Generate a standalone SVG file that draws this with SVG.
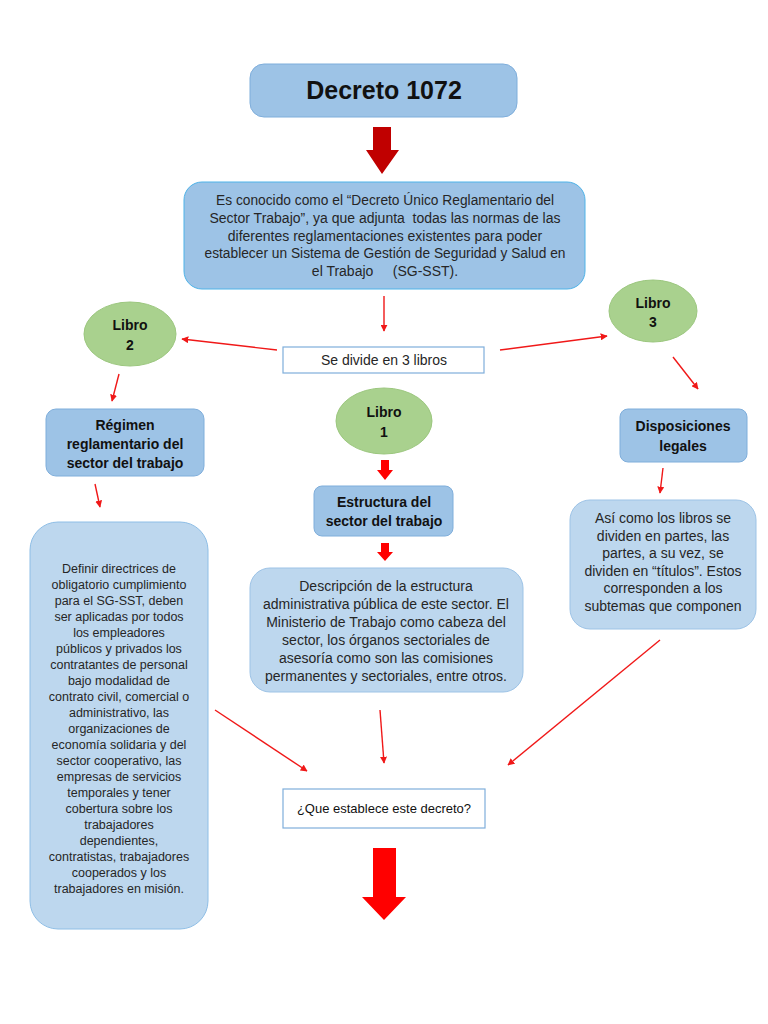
<svg xmlns="http://www.w3.org/2000/svg" width="768" height="1024" viewBox="0 0 768 1024">
<defs>
<style>
.box{fill:#9DC3E6;stroke:#7FAEDB;stroke-width:1}
.lbox{fill:#BDD7EE;stroke:#9DC3E6;stroke-width:1}
.wbox{fill:#FFFFFF;stroke:#7FAEDB;stroke-width:1.2}
.ell{fill:#A9D18E;stroke:#9CC77F;stroke-width:1}
.t{font-family:"Liberation Sans",Arial,sans-serif;font-size:14px;fill:#262626;text-anchor:middle}
.b{font-family:"Liberation Sans",Arial,sans-serif;font-size:14px;font-weight:bold;fill:#111;text-anchor:middle}
.s{font-family:"Liberation Sans",Arial,sans-serif;font-size:12.5px;fill:#262626;text-anchor:middle}
.ln{stroke:#F01818;stroke-width:1.4;fill:none;marker-end:url(#ah)}
</style>
<marker id="ah" viewBox="0 0 10 10" refX="9" refY="5" markerWidth="7" markerHeight="7" markerUnits="userSpaceOnUse" orient="auto">
<path d="M0,0 L10,5 L0,10 z" fill="#F01818"/>
</marker>
</defs>
<rect width="768" height="1024" fill="#FFFFFF"/>

<g id="connectors">
<polygon points="373,127 391,127 391,150 399,150 382,174 366,150 373,150" fill="#C00000"/>
<line class="ln" x1="384" y1="296" x2="384" y2="331"/>
<line class="ln" x1="277" y1="350" x2="182" y2="339"/>
<line class="ln" x1="500" y1="350" x2="607" y2="336"/>
<line class="ln" x1="119" y1="374" x2="112" y2="401"/>
<line class="ln" x1="673" y1="357" x2="698" y2="389"/>
<polygon points="381,460 389,460 389,470 393,470 385,480 377,470 381,470" fill="#FF0000"/>
<polygon points="381,543 389,543 389,552 393,552 385,561 377,552 381,552" fill="#FF0000"/>
<line class="ln" x1="95" y1="484" x2="100" y2="507"/>
<line class="ln" x1="663" y1="468" x2="660" y2="493"/>
<line class="ln" x1="215" y1="710" x2="307" y2="771"/>
<line class="ln" x1="380" y1="710" x2="384" y2="763"/>
<line class="ln" x1="660" y1="640" x2="508" y2="765"/>
<polygon points="373,848 396,848 396,897 406,897 384,920 362,897 373,897" fill="#FF0000"/>
</g>

<g id="decreto">
<rect class="box" x="250" y="64" width="267" height="53" rx="14"/>
<text x="384" y="99" font-family="Liberation Sans,Arial,sans-serif" font-size="25" font-weight="bold" fill="#111" text-anchor="middle">Decreto 1072</text>
</g>

<g id="conocido">
<rect class="box" x="184" y="182" width="401" height="107" rx="18" style="stroke:#4FB3E8"/>
<text class="t" x="385" y="205" textLength="338" lengthAdjust="spacingAndGlyphs">Es conocido como el “Decreto Único Reglamentario del</text>
<text class="t" x="385" y="223" xml:space="preserve">Sector Trabajo”, ya que adjunta  todas las normas de las</text>
<text class="t" x="385" y="241">diferentes reglamentaciones existentes para poder</text>
<text class="t" x="385" y="258" textLength="361" lengthAdjust="spacingAndGlyphs">establecer un Sistema de Gestión de Seguridad y Salud en</text>
<text class="t" x="385" y="276" xml:space="preserve">el Trabajo     (SG-SST).</text>
</g>

<g id="divide">
<rect class="wbox" x="283" y="347" width="201" height="26"/>
<text class="t" x="384" y="365">Se divide en 3 libros</text>
</g>

<g id="libro2">
<ellipse class="ell" cx="130" cy="334" rx="46" ry="32"/>
<text class="b" x="130" y="330">Libro</text>
<text class="b" x="130" y="350">2</text>
</g>

<g id="libro3">
<ellipse class="ell" cx="653" cy="311" rx="44" ry="31"/>
<text class="b" x="653" y="308">Libro</text>
<text class="b" x="653" y="327">3</text>
</g>

<g id="libro1">
<ellipse class="ell" cx="384" cy="421" rx="48" ry="33"/>
<text class="b" x="384" y="417">Libro</text>
<text class="b" x="384" y="437">1</text>
</g>

<g id="regimen">
<rect class="box" x="46" y="409" width="158" height="67" rx="10"/>
<text class="b" x="125" y="430">Régimen</text>
<text class="b" x="125" y="449">reglamentario del</text>
<text class="b" x="125" y="468">sector del trabajo</text>
</g>

<g id="disposiciones">
<rect class="box" x="620" y="409" width="127" height="53" rx="8"/>
<text class="b" x="683" y="431">Disposiciones</text>
<text class="b" x="683" y="451">legales</text>
</g>

<g id="estructura">
<rect class="box" x="314" y="486" width="139" height="50" rx="8"/>
<text class="b" x="384" y="507">Estructura del</text>
<text class="b" x="384" y="526">sector del trabajo</text>
</g>

<g id="descripcion">
<rect class="lbox" x="250" y="568" width="273" height="124" rx="20"/>
<text class="t" x="386" y="591">Descripción de la estructura</text>
<text class="t" x="386" y="609">administrativa pública de este sector. El</text>
<text class="t" x="386" y="627">Ministerio de Trabajo como cabeza del</text>
<text class="t" x="386" y="645">sector, los órganos sectoriales de</text>
<text class="t" x="386" y="663">asesoría como son las comisiones</text>
<text class="t" x="386" y="681">permanentes y sectoriales, entre otros.</text>
</g>

<g id="asi">
<rect class="lbox" x="570" y="500" width="186" height="129" rx="20"/>
<text class="t" x="663" y="523">Así como los libros se</text>
<text class="t" x="663" y="541">dividen en partes, las</text>
<text class="t" x="663" y="558">partes, a su vez, se</text>
<text class="t" x="663" y="576">dividen en “títulos”. Estos</text>
<text class="t" x="663" y="593">corresponden a los</text>
<text class="t" x="663" y="611">subtemas que componen</text>
</g>

<g id="definir">
<rect class="lbox" x="30" y="522" width="178" height="407" rx="28" style="stroke:#8EBEE6"/>
<text class="s" x="119" y="573">Definir directrices de</text>
<text class="s" x="119" y="589">obligatorio cumplimiento</text>
<text class="s" x="119" y="605">para el SG-SST, deben</text>
<text class="s" x="119" y="621">ser aplicadas por todos</text>
<text class="s" x="119" y="637">los empleadores</text>
<text class="s" x="119" y="653">públicos y privados los</text>
<text class="s" x="119" y="669">contratantes de personal</text>
<text class="s" x="119" y="685">bajo modalidad de</text>
<text class="s" x="119" y="701">contrato civil, comercial o</text>
<text class="s" x="119" y="717">administrativo, las</text>
<text class="s" x="119" y="733">organizaciones de</text>
<text class="s" x="119" y="749">economía solidaria y del</text>
<text class="s" x="119" y="765">sector cooperativo, las</text>
<text class="s" x="119" y="781">empresas de servicios</text>
<text class="s" x="119" y="797">temporales y tener</text>
<text class="s" x="119" y="813">cobertura sobre los</text>
<text class="s" x="119" y="829">trabajadores</text>
<text class="s" x="119" y="845">dependientes,</text>
<text class="s" x="119" y="861">contratistas, trabajadores</text>
<text class="s" x="119" y="877">cooperados y los</text>
<text class="s" x="119" y="893">trabajadores en misión.</text>
</g>

<g id="establece">
<rect class="wbox" x="283" y="789" width="202" height="39"/>
<text x="384" y="813" font-family="Liberation Sans,Arial,sans-serif" font-size="13" fill="#111" text-anchor="middle">¿Que establece este decreto?</text>
</g>
</svg>
